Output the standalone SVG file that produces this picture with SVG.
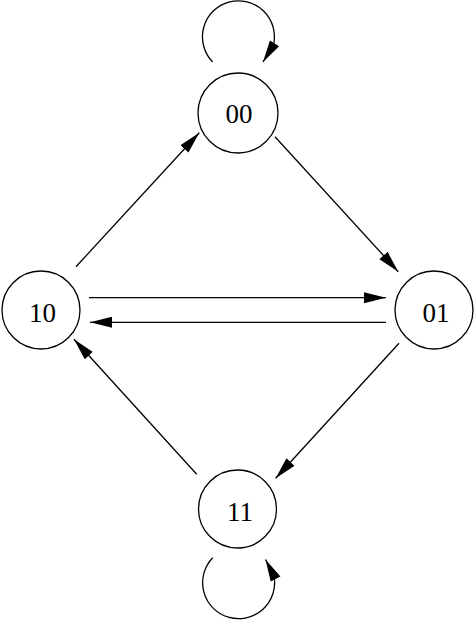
<svg xmlns="http://www.w3.org/2000/svg" width="474" height="620" viewBox="0 0 474 620">
<style>
.node circle{fill:#fff;stroke:#000;stroke-width:1.3}
.node text{font-family:"Liberation Serif","Times New Roman",serif;font-size:27px;text-anchor:middle;fill:#000}
.edge{fill:none;stroke:#000;stroke-width:1.3;marker-end:url(#arr)}
</style>
<defs>
<marker id="arr" markerUnits="userSpaceOnUse" markerWidth="22" markerHeight="12" refX="22" refY="5.5" orient="auto" viewBox="0 0 22 11">
<path d="M0,0 L22,5.5 L0,11 z" fill="#000"/>
</marker>
</defs>
<g id="connectors">
<path class="edge" d="M212.7,62 A36,36 0 1 1 273.5,45 L263,62"/>
<path class="edge" d="M212.7,557.7 A36,36 0 1 0 274,576 L265.5,559.5"/>
<line class="edge" x1="76" y1="266.7" x2="199.3" y2="132.7"/>
<line class="edge" x1="275" y1="136.7" x2="398.3" y2="271.7"/>
<line class="edge" x1="399" y1="343.3" x2="275.7" y2="478.3"/>
<line class="edge" x1="196.7" y1="474.3" x2="74" y2="339.3"/>
<line class="edge" x1="89" y1="297.7" x2="386" y2="297.7"/>
<line class="edge" x1="386" y1="322.3" x2="90" y2="322.3"/>
</g>
<g id="n00" class="node"><circle cx="238" cy="113" r="40"/><text x="239" y="123">00</text></g>
<g id="n10" class="node"><circle cx="41" cy="310" r="39"/><text x="42.5" y="322">10</text></g>
<g id="n01" class="node"><circle cx="434" cy="310" r="39"/><text x="436" y="322">01</text></g>
<g id="n11" class="node"><circle cx="237.5" cy="509" r="39"/><text x="240" y="521">11</text></g>
</svg>
